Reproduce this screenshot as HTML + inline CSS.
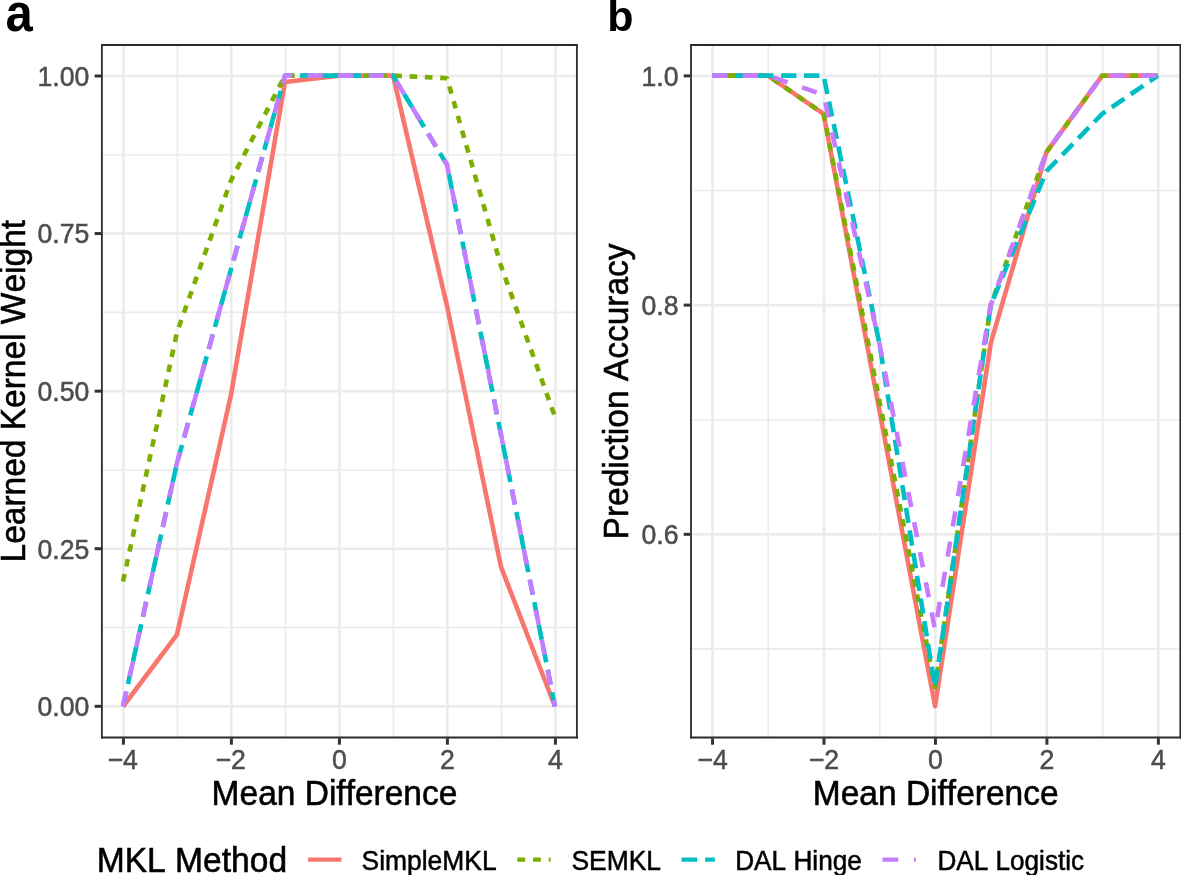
<!DOCTYPE html>
<html lang="en">
<head>
<meta charset="utf-8">
<title>MKL Method comparison</title>
<style>
html,body{margin:0;padding:0;background:#fff;}
body{width:1181px;height:875px;overflow:hidden;}
svg{display:block;}
text{font-family:"Liberation Sans",sans-serif;font-kerning:none;}
.at{font-size:26.65px;fill:#4D4D4D;stroke:#4D4D4D;stroke-width:0.5px;}
.ti{font-size:33.5px;fill:#000;stroke:#000;stroke-width:0.55px;}
.lt{font-size:33.6px;fill:#000;stroke:#000;stroke-width:0.55px;}
.lg{font-size:26.45px;fill:#000;stroke:#000;stroke-width:0.5px;}
</style>
</head>
<body>
<svg width="1181" height="875" viewBox="0 0 1181 875">
<rect x="0" y="0" width="1181" height="875" fill="#ffffff"/>
<defs>
<clipPath id="ca"><rect x="101.9" y="44.9" width="475.00" height="692.50"/></clipPath>
<clipPath id="cb"><rect x="691.0" y="44.9" width="489.35" height="692.50"/></clipPath>
</defs>
<g clip-path="url(#ca)">
<line x1="177.40" x2="177.40" y1="44.9" y2="737.4" stroke="#EBEBEB" stroke-width="1.6"/>
<line x1="285.40" x2="285.40" y1="44.9" y2="737.4" stroke="#EBEBEB" stroke-width="1.6"/>
<line x1="393.40" x2="393.40" y1="44.9" y2="737.4" stroke="#EBEBEB" stroke-width="1.6"/>
<line x1="501.40" x2="501.40" y1="44.9" y2="737.4" stroke="#EBEBEB" stroke-width="1.6"/>
<line y1="627.51" y2="627.51" x1="101.9" x2="576.9" stroke="#EBEBEB" stroke-width="1.6"/>
<line y1="469.94" y2="469.94" x1="101.9" x2="576.9" stroke="#EBEBEB" stroke-width="1.6"/>
<line y1="312.36" y2="312.36" x1="101.9" x2="576.9" stroke="#EBEBEB" stroke-width="1.6"/>
<line y1="154.79" y2="154.79" x1="101.9" x2="576.9" stroke="#EBEBEB" stroke-width="1.6"/>
<line x1="123.40" x2="123.40" y1="44.9" y2="737.4" stroke="#EBEBEB" stroke-width="2.6"/>
<line x1="231.40" x2="231.40" y1="44.9" y2="737.4" stroke="#EBEBEB" stroke-width="2.6"/>
<line x1="339.40" x2="339.40" y1="44.9" y2="737.4" stroke="#EBEBEB" stroke-width="2.6"/>
<line x1="447.40" x2="447.40" y1="44.9" y2="737.4" stroke="#EBEBEB" stroke-width="2.6"/>
<line x1="555.40" x2="555.40" y1="44.9" y2="737.4" stroke="#EBEBEB" stroke-width="2.6"/>
<line y1="706.30" y2="706.30" x1="101.9" x2="576.9" stroke="#EBEBEB" stroke-width="2.6"/>
<line y1="548.72" y2="548.72" x1="101.9" x2="576.9" stroke="#EBEBEB" stroke-width="2.6"/>
<line y1="391.15" y2="391.15" x1="101.9" x2="576.9" stroke="#EBEBEB" stroke-width="2.6"/>
<line y1="233.57" y2="233.57" x1="101.9" x2="576.9" stroke="#EBEBEB" stroke-width="2.6"/>
<line y1="76.00" y2="76.00" x1="101.9" x2="576.9" stroke="#EBEBEB" stroke-width="2.6"/>
<polyline points="123.00,706.50 177.00,634.58 231.00,394.84 285.00,81.91 339.00,75.60 393.00,75.60 447.00,305.88 501.00,566.88 555.00,706.50" fill="none" stroke="#F8766D" stroke-width="4.6" stroke-linejoin="round" stroke-linecap="butt"/>
<polyline points="123.00,581.58 177.00,332.38 231.00,180.33 285.00,75.60 339.00,75.60 393.00,75.60 447.00,78.19 501.00,265.82 555.00,416.92" fill="none" stroke="#7CAE00" stroke-width="4.6" stroke-linejoin="round" stroke-linecap="butt" stroke-dasharray="7.66 7.66"/>
<polyline points="123.00,706.50 177.00,462.97 231.00,269.29 285.00,75.60 339.00,75.60 393.00,75.60 447.00,164.81 501.00,434.58 555.00,706.50" fill="none" stroke="#00BFC4" stroke-width="4.6" stroke-linejoin="round" stroke-linecap="butt" stroke-dasharray="15.32 7.66"/>
<polyline points="123.00,706.50 177.00,462.97 231.00,269.29 285.00,75.60 339.00,75.60 393.00,75.60 447.00,164.81 501.00,434.58 555.00,706.50" fill="none" stroke="#C77CFF" stroke-width="4.6" stroke-linejoin="round" stroke-linecap="butt" stroke-dasharray="15.32 15.32"/>
</g>
<line x1="101.9" x2="101.9" y1="43.90" y2="738.40" stroke="#303030" stroke-width="1.85"/>
<line x1="576.9" x2="576.9" y1="43.90" y2="738.40" stroke="#303030" stroke-width="1.85"/>
<line x1="101.15" x2="577.70" y1="44.9" y2="44.9" stroke="#2a2a2a" stroke-width="2.0"/>
<line x1="101.15" x2="577.70" y1="737.4" y2="737.4" stroke="#2b2b2b" stroke-width="2.0"/>
<line x1="123.40" x2="123.40" y1="738.20" y2="744.70" stroke="#333333" stroke-width="3.0"/>
<text class="at" transform="translate(122.70,769.40) scale(1,1.03)" text-anchor="middle">−4</text>
<line x1="231.40" x2="231.40" y1="738.20" y2="744.70" stroke="#333333" stroke-width="3.0"/>
<text class="at" transform="translate(230.70,769.40) scale(1,1.03)" text-anchor="middle">−2</text>
<line x1="339.40" x2="339.40" y1="738.20" y2="744.70" stroke="#333333" stroke-width="3.0"/>
<text class="at" transform="translate(339.40,769.40) scale(1,1.03)" text-anchor="middle">0</text>
<line x1="447.40" x2="447.40" y1="738.20" y2="744.70" stroke="#333333" stroke-width="3.0"/>
<text class="at" transform="translate(447.40,769.40) scale(1,1.03)" text-anchor="middle">2</text>
<line x1="555.40" x2="555.40" y1="738.20" y2="744.70" stroke="#333333" stroke-width="3.0"/>
<text class="at" transform="translate(555.40,769.40) scale(1,1.03)" text-anchor="middle">4</text>
<line y1="706.30" y2="706.30" x1="94.60" x2="101.10" stroke="#333333" stroke-width="3.0"/>
<text class="at" transform="translate(89.30,716.10) scale(1,1.03)" text-anchor="end">0.00</text>
<line y1="548.72" y2="548.72" x1="94.60" x2="101.10" stroke="#333333" stroke-width="3.0"/>
<text class="at" transform="translate(89.30,558.52) scale(1,1.03)" text-anchor="end">0.25</text>
<line y1="391.15" y2="391.15" x1="94.60" x2="101.10" stroke="#333333" stroke-width="3.0"/>
<text class="at" transform="translate(89.30,400.95) scale(1,1.03)" text-anchor="end">0.50</text>
<line y1="233.57" y2="233.57" x1="94.60" x2="101.10" stroke="#333333" stroke-width="3.0"/>
<text class="at" transform="translate(89.30,243.38) scale(1,1.03)" text-anchor="end">0.75</text>
<line y1="76.00" y2="76.00" x1="94.60" x2="101.10" stroke="#333333" stroke-width="3.0"/>
<text class="at" transform="translate(89.30,85.80) scale(1,1.03)" text-anchor="end">1.00</text>
<g clip-path="url(#cb)">
<line x1="768.26" x2="768.26" y1="44.9" y2="737.4" stroke="#EBEBEB" stroke-width="1.6"/>
<line x1="879.72" x2="879.72" y1="44.9" y2="737.4" stroke="#EBEBEB" stroke-width="1.6"/>
<line x1="991.18" x2="991.18" y1="44.9" y2="737.4" stroke="#EBEBEB" stroke-width="1.6"/>
<line x1="1102.64" x2="1102.64" y1="44.9" y2="737.4" stroke="#EBEBEB" stroke-width="1.6"/>
<line y1="648.90" y2="648.90" x1="691.0" x2="1180.35" stroke="#EBEBEB" stroke-width="1.6"/>
<line y1="419.70" y2="419.70" x1="691.0" x2="1180.35" stroke="#EBEBEB" stroke-width="1.6"/>
<line y1="190.50" y2="190.50" x1="691.0" x2="1180.35" stroke="#EBEBEB" stroke-width="1.6"/>
<line x1="712.53" x2="712.53" y1="44.9" y2="737.4" stroke="#EBEBEB" stroke-width="2.6"/>
<line x1="823.99" x2="823.99" y1="44.9" y2="737.4" stroke="#EBEBEB" stroke-width="2.6"/>
<line x1="935.45" x2="935.45" y1="44.9" y2="737.4" stroke="#EBEBEB" stroke-width="2.6"/>
<line x1="1046.91" x2="1046.91" y1="44.9" y2="737.4" stroke="#EBEBEB" stroke-width="2.6"/>
<line x1="1158.37" x2="1158.37" y1="44.9" y2="737.4" stroke="#EBEBEB" stroke-width="2.6"/>
<line y1="534.30" y2="534.30" x1="691.0" x2="1180.35" stroke="#EBEBEB" stroke-width="2.6"/>
<line y1="305.10" y2="305.10" x1="691.0" x2="1180.35" stroke="#EBEBEB" stroke-width="2.6"/>
<line y1="75.90" y2="75.90" x1="691.0" x2="1180.35" stroke="#EBEBEB" stroke-width="2.6"/>
<polyline points="712.13,75.60 767.86,75.60 823.59,113.82 879.32,410.03 935.05,706.18 990.78,343.12 1046.51,152.03 1102.24,75.60 1157.97,75.60" fill="none" stroke="#F8766D" stroke-width="4.6" stroke-linejoin="round" stroke-linecap="butt"/>
<polyline points="712.13,75.60 767.86,75.60 823.59,113.82 879.32,400.40 935.05,687.07 990.78,304.90 1046.51,152.03 1102.24,75.60 1157.97,75.60" fill="none" stroke="#7CAE00" stroke-width="4.6" stroke-linejoin="round" stroke-linecap="butt" stroke-dasharray="7.66 7.66"/>
<polyline points="712.13,75.60 767.86,75.60 823.59,75.60 879.32,343.12 935.05,687.07 990.78,304.90 1046.51,171.14 1102.24,113.82 1157.97,75.60" fill="none" stroke="#00BFC4" stroke-width="4.6" stroke-linejoin="round" stroke-linecap="butt" stroke-dasharray="15.32 7.66"/>
<polyline points="712.13,75.60 767.86,75.60 823.59,94.75 879.32,343.12 935.05,629.74 990.78,304.90 1046.51,152.03 1102.24,75.60 1157.97,75.60" fill="none" stroke="#C77CFF" stroke-width="4.6" stroke-linejoin="round" stroke-linecap="butt" stroke-dasharray="15.32 15.32"/>
</g>
<line x1="691.0" x2="691.0" y1="43.90" y2="738.40" stroke="#303030" stroke-width="1.85"/>
<line x1="1180.35" x2="1180.35" y1="43.90" y2="738.40" stroke="#303030" stroke-width="1.85"/>
<line x1="690.25" x2="1181.15" y1="44.9" y2="44.9" stroke="#2a2a2a" stroke-width="2.0"/>
<line x1="690.25" x2="1181.15" y1="737.4" y2="737.4" stroke="#2b2b2b" stroke-width="2.0"/>
<line x1="712.53" x2="712.53" y1="738.20" y2="744.70" stroke="#333333" stroke-width="3.0"/>
<text class="at" transform="translate(712.53,769.40) scale(1,1.03)" text-anchor="middle">−4</text>
<line x1="823.99" x2="823.99" y1="738.20" y2="744.70" stroke="#333333" stroke-width="3.0"/>
<text class="at" transform="translate(823.99,769.40) scale(1,1.03)" text-anchor="middle">−2</text>
<line x1="935.45" x2="935.45" y1="738.20" y2="744.70" stroke="#333333" stroke-width="3.0"/>
<text class="at" transform="translate(935.45,769.40) scale(1,1.03)" text-anchor="middle">0</text>
<line x1="1046.91" x2="1046.91" y1="738.20" y2="744.70" stroke="#333333" stroke-width="3.0"/>
<text class="at" transform="translate(1046.91,769.40) scale(1,1.03)" text-anchor="middle">2</text>
<line x1="1158.37" x2="1158.37" y1="738.20" y2="744.70" stroke="#333333" stroke-width="3.0"/>
<text class="at" transform="translate(1158.37,769.40) scale(1,1.03)" text-anchor="middle">4</text>
<line y1="534.30" y2="534.30" x1="683.70" x2="690.20" stroke="#333333" stroke-width="3.0"/>
<text class="at" transform="translate(678.60,544.10) scale(1,1.03)" text-anchor="end">0.6</text>
<line y1="305.10" y2="305.10" x1="683.70" x2="690.20" stroke="#333333" stroke-width="3.0"/>
<text class="at" transform="translate(678.60,314.90) scale(1,1.03)" text-anchor="end">0.8</text>
<line y1="75.90" y2="75.90" x1="683.70" x2="690.20" stroke="#333333" stroke-width="3.0"/>
<text class="at" transform="translate(678.60,85.70) scale(1,1.03)" text-anchor="end">1.0</text>
<text class="ti" transform="translate(334.50,805.30) scale(1,1.03)" text-anchor="middle">Mean Difference</text>
<text class="ti" transform="translate(935.70,805.30) scale(1,1.03)" text-anchor="middle">Mean Difference</text>
<text class="ti" transform="translate(24.60,391.20) rotate(-90) scale(1,1.03)" text-anchor="middle">Learned Kernel Weight</text>
<text class="ti" transform="translate(628.20,391.40) rotate(-90) scale(1,1.03)" text-anchor="middle">Prediction Accuracy</text>
<text transform="translate(5.6,30.6) scale(1,1.08)" style="font-size:49px;font-weight:bold;fill:#000">a</text>
<text x="607.2" y="30.8" style="font-size:43px;font-weight:bold;fill:#000">b</text>
<text class="lt" transform="translate(96.70,871.50) scale(1,1.03)">MKL Method</text>
<line x1="308.1" x2="341.50" y1="859.7" y2="859.7" stroke="#F8766D" stroke-width="4.3"/>
<text class="lg" transform="translate(361.50,869.60) scale(1,1.03)" style="font-size:26.45px">SimpleMKL</text>
<line x1="517.3" x2="550.70" y1="859.7" y2="859.7" stroke="#7CAE00" stroke-width="4.3" stroke-dasharray="7.86 7.86"/>
<text class="lg" transform="translate(571.40,869.60) scale(1,1.03)" style="font-size:26.45px">SEMKL</text>
<line x1="681.5" x2="714.90" y1="859.7" y2="859.7" stroke="#00BFC4" stroke-width="4.3" stroke-dasharray="15.72 7.86"/>
<text class="lg" transform="translate(735.20,869.60) scale(1,1.03)" style="font-size:26.2px">DAL Hinge</text>
<line x1="882.5" x2="915.90" y1="859.7" y2="859.7" stroke="#C77CFF" stroke-width="4.3" stroke-dasharray="15.72 15.72"/>
<text class="lg" transform="translate(937.40,869.60) scale(1,1.03)" style="font-size:26.15px">DAL Logistic</text>
</svg>
</body>
</html>
